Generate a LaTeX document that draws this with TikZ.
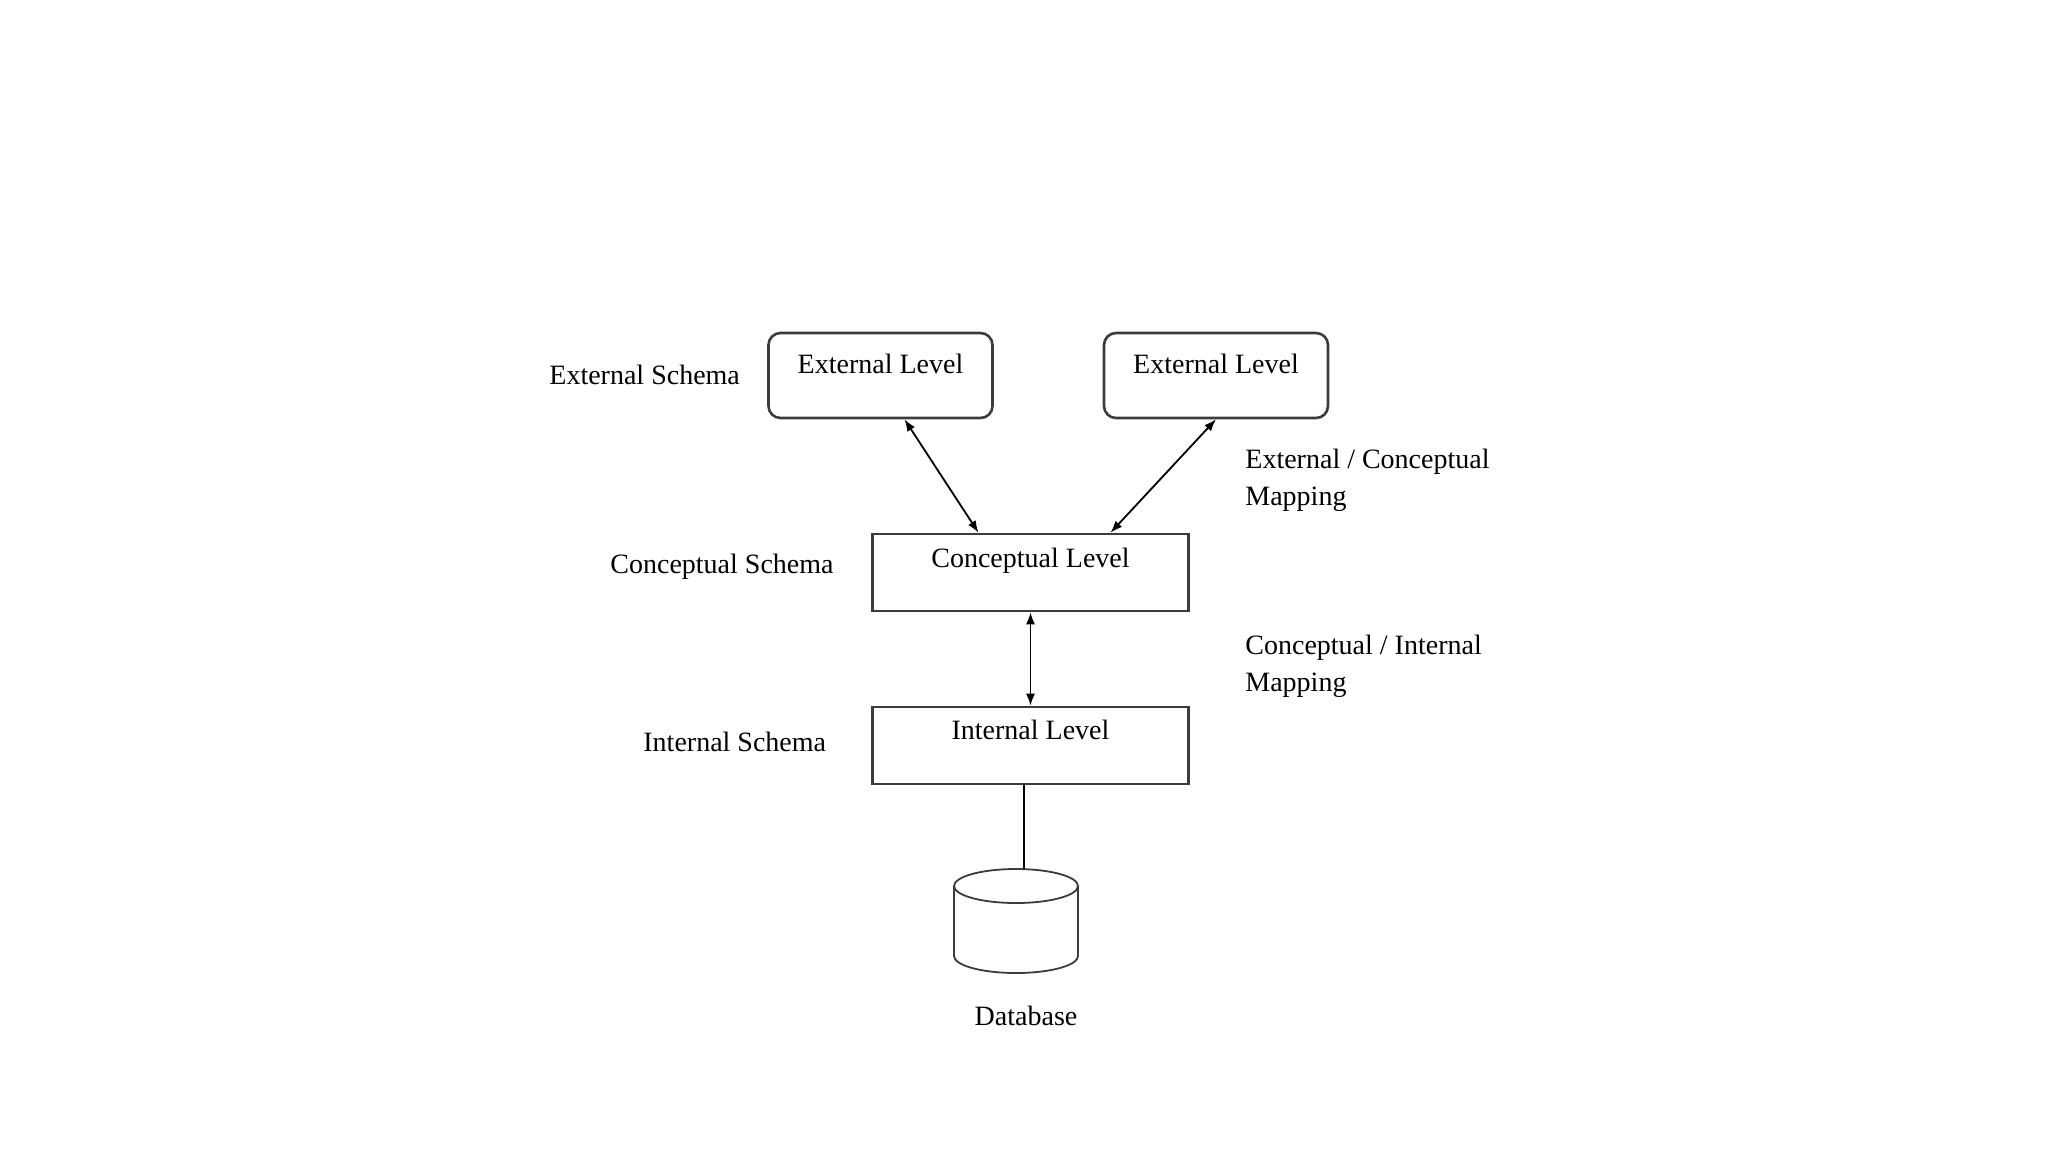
\documentclass[tikz,border=0pt]{standalone}
\usepackage{fontspec}
\setmainfont{Liberation Serif}
\usetikzlibrary{arrows.meta}

\tikzset{
  levelbox/.style={draw={rgb, 255:red, 60; green, 60; blue, 60}, line width=1.3pt, inner sep=0pt, minimum width=158pt, minimum height=38.5pt, font=\fontsize{14}{17}\selectfont},
  extbox/.style={levelbox, rounded corners=6pt, minimum width=112pt, minimum height=42.5pt},
  schema/.style={inner sep=0pt, font=\fontsize{14}{17}\selectfont},
  maplink/.style={line width=0.9pt, {Latex[length=6pt,width=4.5pt]}-{Latex[length=6pt,width=4.5pt]}}
}

\begin{document}
\begin{tikzpicture}[x=0.5pt,y=0.5pt,yscale=-1,xscale=1]
        \useasboundingbox (0,0) rectangle (2048,1152);

        %Rounded Rect [id:ext1] 
        \node [extbox, text height=20pt, text depth=22.5pt] (ext1) at (880.5,375.5) {External Level};
        %Rounded Rect [id:ext2] 
        \node [extbox, text height=20pt, text depth=22.5pt] (ext2) at (1216,375.5) {External Level};
        %Shape: Rectangle [id:conc] 
        \node [levelbox, text height=16.5pt, text depth=22pt] (conc) at (1030.5,572.5) {Conceptual Level};
        %Shape: Rectangle [id:intl] 
        \node [levelbox, text height=16pt, text depth=22.5pt] (intl) at (1030.5,745.5) {Internal Level};

        %Shape: Can [id:db] 
        \coordinate (db) at (1024,869);
        \draw [line width=0.9pt, draw={rgb, 255:red, 60; green, 60; blue, 60}] (1016,886) ellipse [x radius=62, y radius=17];
        \draw [line width=0.9pt, draw={rgb, 255:red, 60; green, 60; blue, 60}] (954,886) -- (954,956) arc [start angle=180, end angle=0, x radius=62, y radius=17] -- (1078,886);

        %Straight Lines with Arrows
        \draw [maplink] ([xshift=12pt]ext1.south) -- ([xshift=-26pt]conc.north);
        \draw [maplink] (ext2.south) -- ([xshift=40pt]conc.north);
        \draw [maplink] (conc.south) -- (intl.north);
        %Straight Lines
        \draw [line width=0.9pt] (intl.south -| db) -- (db);

        % Text Node
        \node [schema, anchor=west] (extschema) at (549,375) {External Schema};
        % Text Node
        \node [schema, anchor=west] (concschema) at (610,567) {Conceptual Schema};
        % Text Node
        \node [schema, anchor=west] (intschema) at (643,742) {Internal Schema};
        % Text Node
        \node [schema, anchor=north west, align=left, font=\fontsize{14}{18.5}\selectfont] (extmap) at (1245,449) {External / Conceptual\\Mapping};
        % Text Node
        \node [schema, anchor=north west, align=left, font=\fontsize{14}{18.5}\selectfont] (intmap) at (1245,635) {Conceptual / Internal\\Mapping};
        % Text Node
        \node [schema] (dbname) at (1026,1016) {Database};

    \end{tikzpicture}
\end{document}
